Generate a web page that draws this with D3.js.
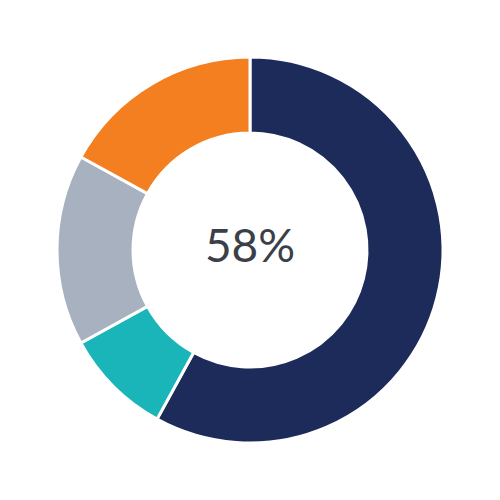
<!DOCTYPE html>
<html>
<head>
<script src="https://d3js.org/d3.v7.min.js"></script>
<style>
  body { margin: 0; background: #fff; }
</style>
</head>
<body>
<div id="chart"></div>
<script>
// slice values (percent), in clockwise order from 12 o'clock
const labels = ["A", "B", "C", "D"];
const values = [58, 9, 16, 17];
const colors = ["#1c2b59", "#1ab5b8", "#a7b1bf", "#f47f20"];
const centerLabel = "58%";

const width = 500, height = 500;
const outerR = 193, innerR = 117;

const svg = d3.select("#chart")
    .append("svg")
    .attr("width", width)
    .attr("height", height)
    .append("g")
    .attr("transform", `translate(${width / 2}, ${height / 2})`);

const pie = d3.pie().sort(null).value(d => d);
const arc = d3.arc().innerRadius(innerR).outerRadius(outerR);

svg.selectAll("path")
    .data(pie(values))
    .join("path")
    .attr("d", arc)
    .attr("fill", (d, i) => colors[i])
    .attr("stroke", "#fff")
    .attr("stroke-width", 3);

svg.append("text")
    .attr("text-anchor", "middle")
    .attr("y", -4)
    .attr("dy", "0.35em")
    .style("font-family", "Lato, 'Open Sans', sans-serif")
    .style("font-size", "46px")
    .style("fill", "#3a3f48")
    .text(centerLabel);
</script>
</body>
</html>
